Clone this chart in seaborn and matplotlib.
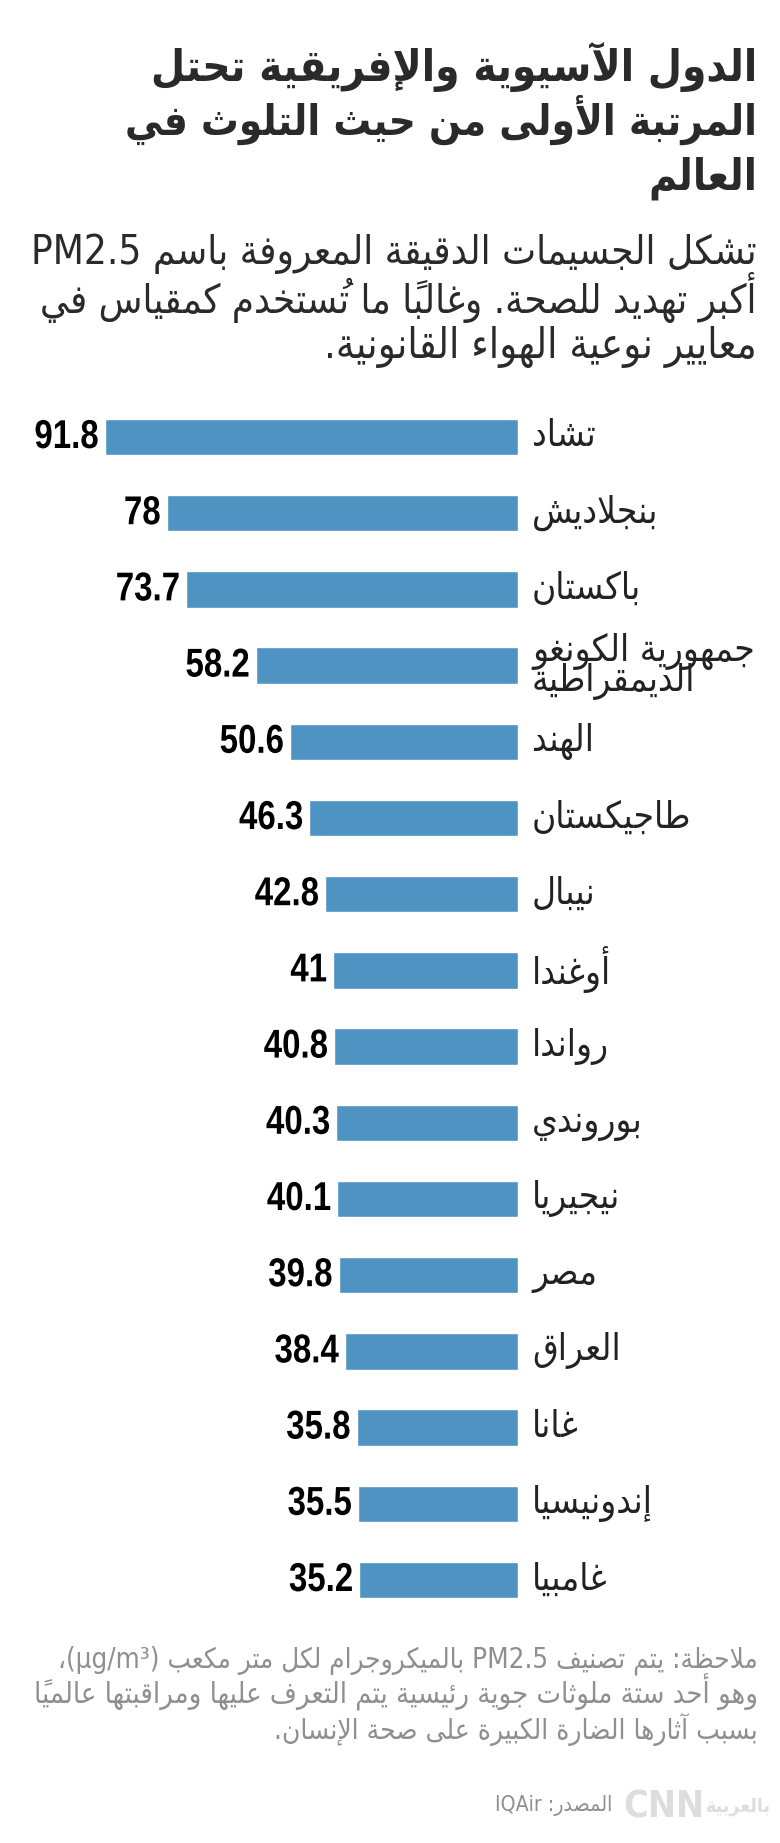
import re

import matplotlib.patheffects as pe
import matplotlib.pyplot as plt
import seaborn as sns
from matplotlib.transforms import Affine2D, ScaledTranslation

# Data
countries = ["تشاد", "بنجلاديش", "باكستان", "جمهورية الكونغو\nالديمقراطية", "الهند", "طاجيكستان", "نيبال", "أوغندا",
             "رواندا", "بوروندي", "نيجيريا", "مصر", "العراق", "غانا", "إندونيسيا", "غامبيا"]
pm25 = [91.8, 78, 73.7, 58.2, 50.6, 46.3, 42.8, 41, 40.8, 40.3, 40.1, 39.8, 38.4, 35.8, 35.5, 35.2]

title_lines = ["الدول الآسيوية والإفريقية تحتل", "المرتبة الأولى من حيث التلوث في", "العالم"]
subtitle_lines = ["تشكل الجسيمات الدقيقة المعروفة باسم PM2.5",
                  "أكبر تهديد للصحة. وغالبًا ما تُستخدم كمقياس في",
                  "معايير نوعية الهواء القانونية."]
note_lines = ["ملاحظة: يتم تصنيف PM2.5 بالميكروجرام لكل متر مكعب (µg/m³)،",
              "وهو أحد ستة ملوثات جوية رئيسية يتم التعرف عليها ومراقبتها عالميًا",
              "بسبب آثارها الضارة الكبيرة على صحة الإنسان."]
source_text = "المصدر: IQAir"
logo_text = "بالعربية"

# matplotlib does no Arabic shaping, so map letters to presentation forms
# letter -> code of the isolated form, number of forms
FORMS = {"ء": (0xFE80, 1), "آ": (0xFE81, 2), "أ": (0xFE83, 2), "ؤ": (0xFE85, 2), "إ": (0xFE87, 2), "ئ": (0xFE89, 4),
         "ا": (0xFE8D, 2), "ب": (0xFE8F, 4), "ة": (0xFE93, 2), "ت": (0xFE95, 4), "ث": (0xFE99, 4), "ج": (0xFE9D, 4),
         "ح": (0xFEA1, 4), "خ": (0xFEA5, 4), "د": (0xFEA9, 2), "ذ": (0xFEAB, 2), "ر": (0xFEAD, 2), "ز": (0xFEAF, 2),
         "س": (0xFEB1, 4), "ش": (0xFEB5, 4), "ص": (0xFEB9, 4), "ض": (0xFEBD, 4), "ط": (0xFEC1, 4), "ظ": (0xFEC5, 4),
         "ع": (0xFEC9, 4), "غ": (0xFECD, 4), "ف": (0xFED1, 4), "ق": (0xFED5, 4), "ك": (0xFED9, 4), "ل": (0xFEDD, 4),
         "م": (0xFEE1, 4), "ن": (0xFEE5, 4), "ه": (0xFEE9, 4), "و": (0xFEED, 2), "ى": (0xFEEF, 2), "ي": (0xFEF1, 4)}
LAM_ALEF = {"آ": 0xFEF5, "أ": 0xFEF7, "إ": 0xFEF9, "ا": 0xFEFB}
MARKS = "\u064b\u064c\u064d\u064e\u064f\u0650\u0651\u0652"


def shape(text):
    # split into clusters of letter + marks, joining lam-alef on the way
    clusters = re.findall(f"[^{MARKS}][{MARKS}]*", text)
    letters = []
    i = 0
    while i < len(clusters):
        c = clusters[i]
        if c[0] == "ل" and i + 1 < len(clusters) and clusters[i + 1][0] in LAM_ALEF:
            letters.append(("lam", clusters[i + 1][0], c[1:] + clusters[i + 1][1:]))
            i += 2
        else:
            letters.append(("ch", c[0], c[1:]))
            i += 1

    def joins_next(item):
        return item[0] == "ch" and item[1] in FORMS and FORMS[item[1]][1] == 4

    def joins_prev(item):
        return item[0] == "lam" or (item[1] in FORMS and item[1] != "ء")

    out = []
    for n, item in enumerate(letters):
        prev_join = n > 0 and joins_next(letters[n - 1]) and joins_prev(item)
        next_join = n + 1 < len(letters) and joins_next(item) and joins_prev(letters[n + 1])
        # marks go first: they have no advance and sit to the right of the pen
        if item[0] == "lam":
            out.append(item[2] + chr(LAM_ALEF[item[1]] + int(prev_join)))
        elif item[1] in FORMS:
            code = FORMS[item[1]][0]
            if prev_join and next_join:
                code += 3
            elif next_join:
                code += 2
            elif prev_join:
                code += 1
            out.append(item[2] + chr(code))
        else:
            out.append(item[2] + item[1])
    return out


def ar(text):
    # visual order: shaped clusters reversed, latin runs kept left to right
    parts = re.split(r"([A-Za-z0-9µ(][A-Za-z0-9.µ/³()]*)", text)
    visual = []
    for part in parts:
        if re.match(r"[A-Za-z0-9µ(]", part):
            visual.append(part)
        elif part:
            visual.append("".join(reversed(shape(part))))
    return "".join(reversed(visual))


def ar_multi(text):
    return "\n".join(ar(line) for line in text.split("\n"))


class Narrow(pe.AbstractPathEffect):
    # squeeze a text sideways about its right edge, no narrow bold font is installed
    def __init__(self, x_right, factor):
        super().__init__()
        self.x_right = x_right
        self.factor = factor

    def draw_path(self, renderer, gc, tpath, affine, rgbFace=None):
        squeeze = Affine2D().translate(-self.x_right, 0).scale(self.factor, 1).translate(self.x_right, 0)
        renderer.draw_path(gc, tpath, affine + squeeze, rgbFace)


W, H = 780, 1843
sns.set_theme(style="white")
plt.rcParams["font.family"] = ["DejaVu Sans"]

fig = plt.figure(figsize=(W / 100, H / 100), dpi=100, facecolor="white")

# axes run from the left edge to the bar baseline
base_x = 517.5
row_h = 76.2
top = 437 - row_h / 2
bottom = 1580 + row_h / 2
ax = fig.add_axes([0, 1 - bottom / H, base_x / W, (bottom - top) / H])

sns.barplot(x=pm25, y=[ar_multi(c) for c in countries], orient="h", color="#4f93c3",
            width=0.48, saturation=1, ax=ax)
ax.set_xlim(base_x / 4.497, 0)
ax.set_ylim(len(pm25) - 0.5, -0.5)
ax.set_xticks([])
ax.set_xlabel("")
ax.set_ylabel("")
ax.patch.set_alpha(0)
sns.despine(ax=ax, left=True, right=True, top=True, bottom=True)

value_labels = ax.bar_label(ax.containers[0], fmt="%g", padding=4.4, fontsize=29, fontweight="bold",
                            family=["Liberation Sans", "DejaVu Sans"], color="black")
renderer = fig.canvas.get_renderer()
for t in value_labels:
    t.set_path_effects([Narrow(t.get_window_extent(renderer).x1, 0.82)])

ax.yaxis.tick_right()
ax.tick_params(axis="y", length=0, pad=10.5, labelsize=26.5, labelcolor="#222222")
up = ScaledTranslation(0, 5 / 100, fig.dpi_scale_trans)
for lab in ax.get_yticklabels():
    lab.set_linespacing(0.72)
    lab.set_stretch("condensed")
    if "\n" not in lab.get_text():
        lab.set_transform(lab.get_transform() + up)


def put(x, y, s, **kw):
    fig.text(x / W, 1 - y / H, s, ha=kw.pop("ha", "right"), va="baseline", **kw)


for y, size, line in zip([81, 135, 190], [31.5, 30.2, 31], title_lines):
    put(757, y, ar(line), fontsize=size, fontweight="bold", color="#2a2a2a", stretch="condensed")
for y, size, line in zip([264, 313, 358], [29, 28.8, 30], subtitle_lines):
    put(757, y, ar(line), fontsize=size, color="#2a2a2a", stretch="condensed")
for y, size, line in zip([1667, 1704, 1739], [19.9, 20.9, 20.1], note_lines):
    put(758, y, ar(line), fontsize=size, color="#8f8f8f", stretch="condensed")

put(612, 1811, ar(source_text), fontsize=15.2, color="#8f8f8f", stretch="condensed")
put(623, 1817, "CNN", ha="left", fontsize=27, fontweight="bold", color="#dddddd", stretch="condensed")
put(771, 1812, ar(logo_text), fontsize=14, fontweight="bold", color="#dddddd", stretch="condensed")

fig.savefig("out.png", dpi=100, facecolor="white")
